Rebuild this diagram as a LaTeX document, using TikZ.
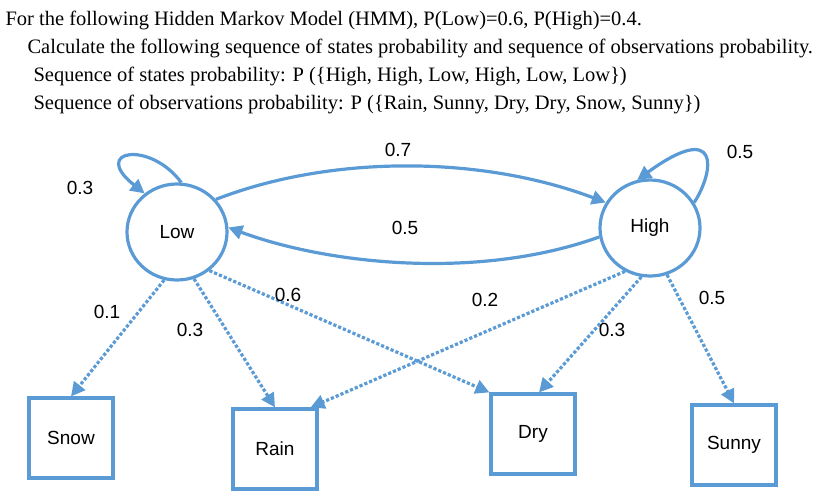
\documentclass[tikz,border=0pt]{standalone}
\usepackage{fontspec}
\setmainfont{Liberation Serif}
\newfontfamily\lab{Liberation Sans}
\usetikzlibrary{arrows.meta,shapes.geometric}
\definecolor{hb}{RGB}{91,155,213}
\begin{document}
\begin{tikzpicture}[x=1pt,y=-1pt,
  st/.style={draw=hb,line width=3.2pt,ellipse,minimum width=100pt,minimum height=96pt,font=\lab\fontsize{19}{21}\selectfont},
  ob/.style={draw=hb,line width=3.2pt,minimum width=84pt,minimum height=80pt,font=\lab\fontsize{19}{21}\selectfont},
  sol/.style={draw=hb,line width=3.2pt,-{Triangle[length=14pt,width=14pt]}},
  dot/.style={draw=hb,line width=3.2pt,dotted,-{Triangle[length=14pt,width=14pt]}},
  lb/.style={font=\lab\fontsize{19}{21}\selectfont},
  hd/.style={anchor=west,font=\fontsize{20.5}{23}\selectfont}]
\useasboundingbox (0,0) rectangle (834,499);
\node[hd] (t1) at (2,20) {For the following Hidden Markov Model (HMM), P(Low)=0.6, P(High)=0.4.};
\node[hd] (t2) at (24,48) {Calculate the following sequence of states probability and sequence of observations probability.};
\node[hd] (t3) at (30,76) {Sequence of states probability: P (\{High, High, Low, High, Low, Low\})};
\node[hd] (t4) at (30,104) {Sequence of observations probability: P (\{Rain, Sunny, Dry, Dry, Snow, Sunny\})};
\node[st] (low) at (177,232) {Low};
\node[st] (high) at (650,228) {High};
\node[ob] (snow) at (71,438) {Snow};
\node[ob] (rain) at (275,449) {Rain};
\node[ob] (dry) at (533,434) {Dry};
\node[ob] (sunny) at (734,445) {Sunny};
\path[sol] (low.40) .. controls (330,155) and (480,155) .. (high.150);
\path[sol] (high.190) .. controls (480,280) and (330,265) .. (low.5);
\path[sol] (low.85) .. controls (150,140) and (90,150) .. (low.130);
\path[sol] (high.30) .. controls (715,170) and (720,120) .. (high.105);
\node[lb] (l1) at (398,150) {0.7};
\node[lb] (l2) at (405,228) {0.5};
\node[lb] (l3) at (80,188) {0.3};
\node[lb] (l4) at (740,152) {0.5};
\path[dot] (low.255) -- (snow.north);
\path[dot] (low.290) -- (rain.north);
\path[dot] (low.310) -- (dry.north west);
\path[dot] (high.240) -- ([xshift=-8pt]rain.north east);
\path[dot] (high.260) -- ([xshift=6pt]dry.north);
\path[dot] (high.290) -- (sunny.north);
\node[lb] (l5) at (107,312) {0.1};
\node[lb] (l6) at (190,330) {0.3};
\node[lb] (l7) at (288,295) {0.6};
\node[lb] (l8) at (485,300) {0.2};
\node[lb] (l9) at (612,330) {0.3};
\node[lb] (l10) at (712,298) {0.5};
\end{tikzpicture}
\end{document}
